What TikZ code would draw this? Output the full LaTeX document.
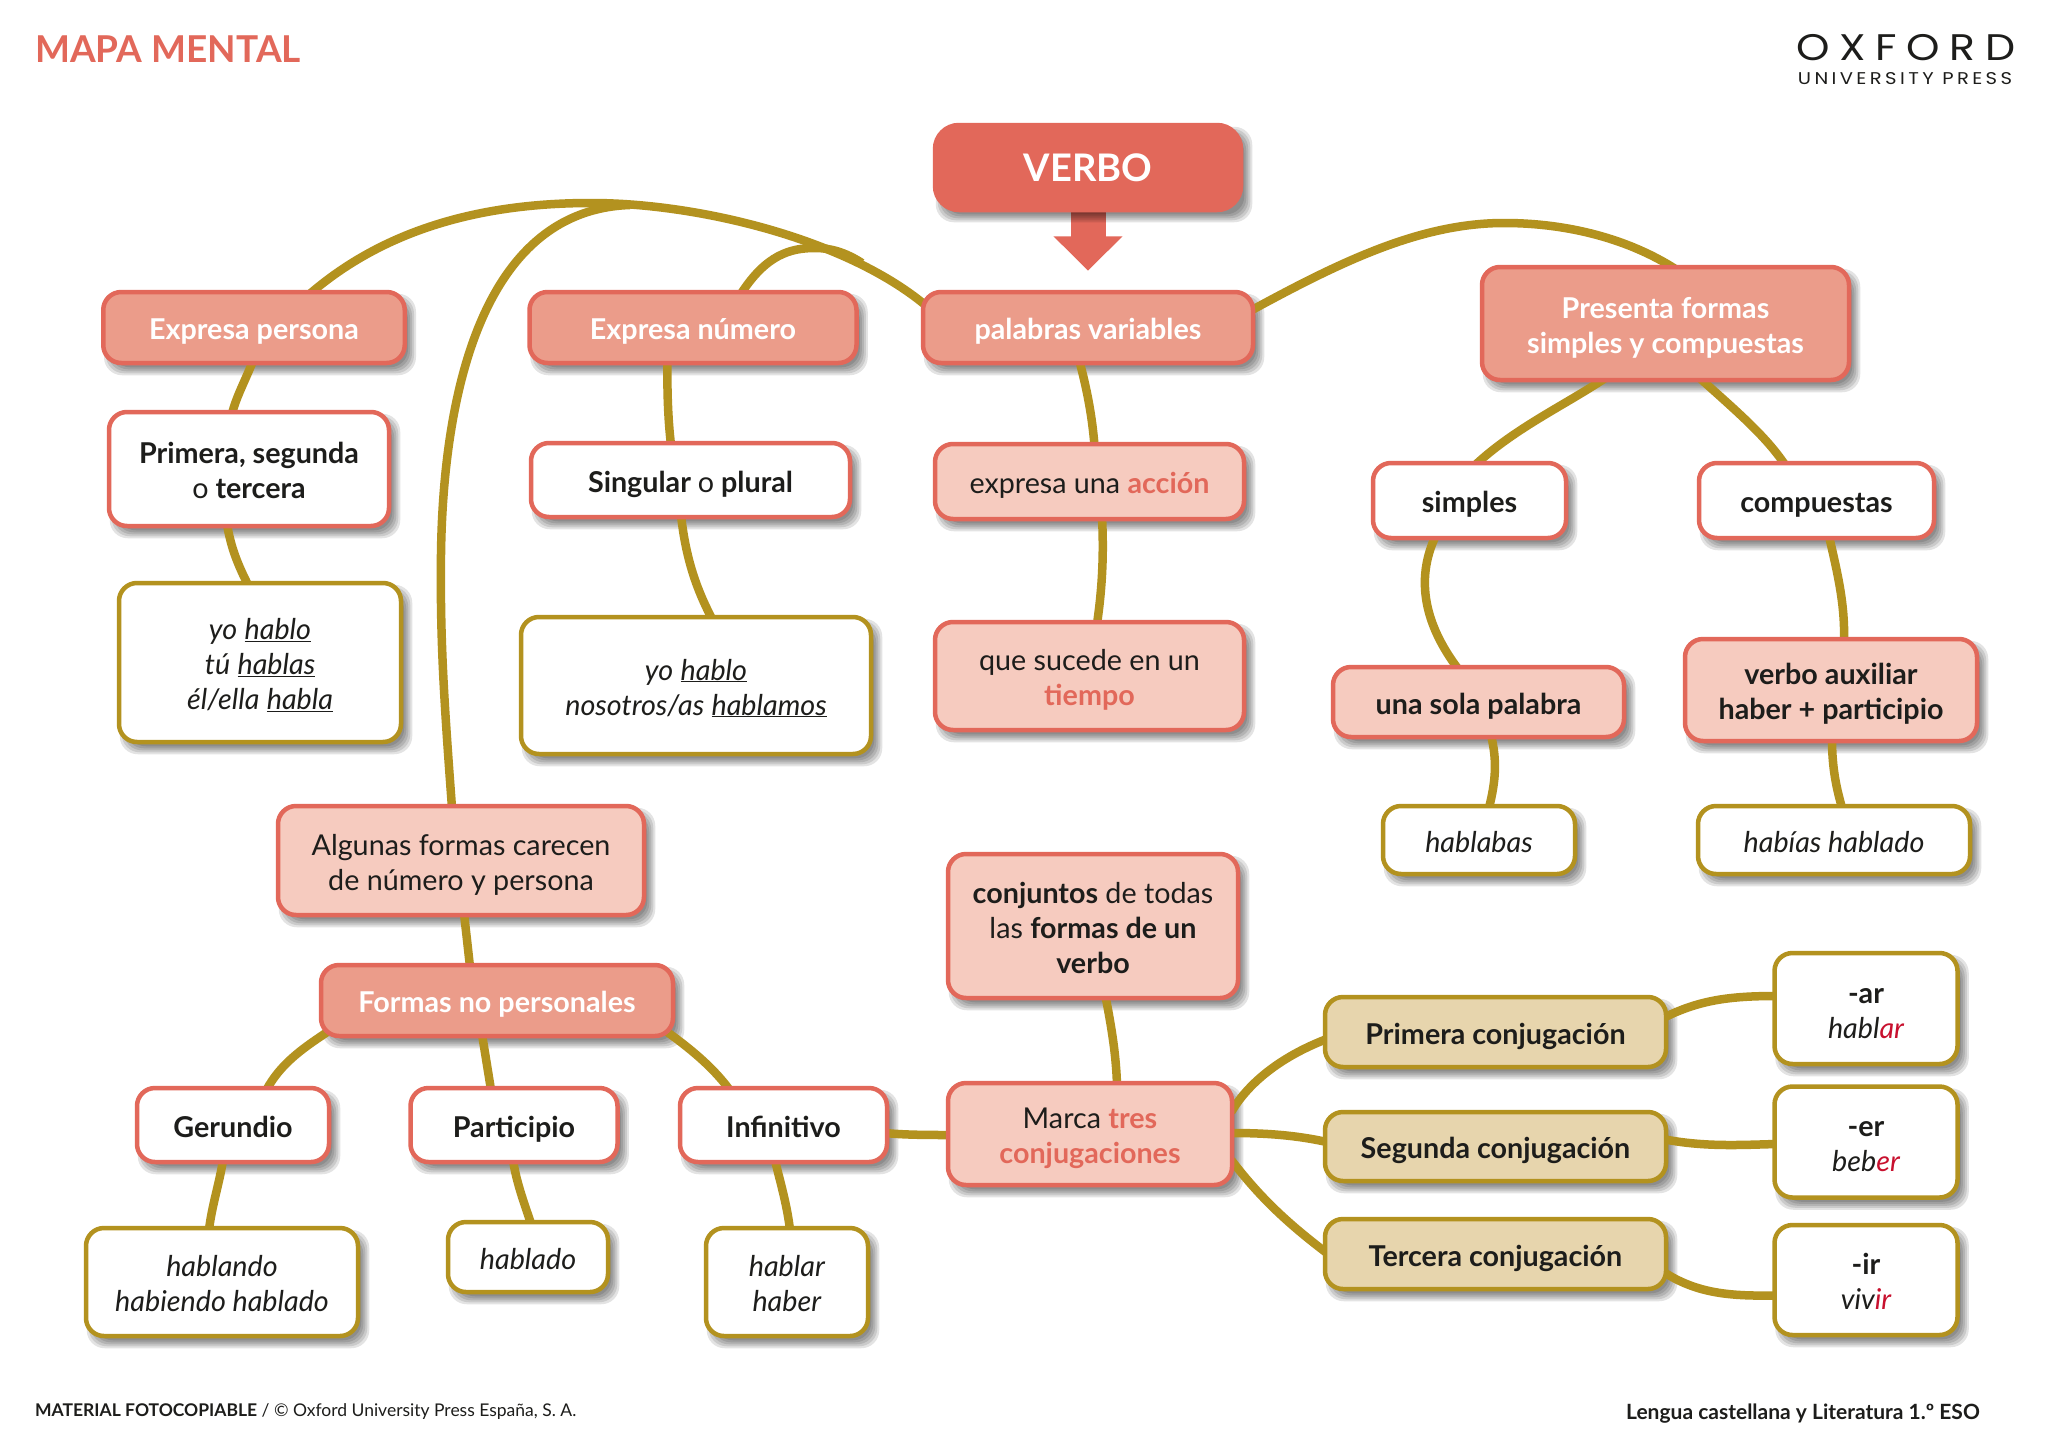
\documentclass[tikz,border=0pt]{standalone}
\usepackage{fontspec}
\setmainfont{Lato}
\newfontfamily\oxf[LetterSpace=26,FakeStretch=1.15]{Poppins}
\newfontfamily\oxs[LetterSpace=20,FakeStretch=1.15]{Poppins}
\usetikzlibrary{arrows.meta}
\definecolor{gold}{HTML}{B3921F}
\definecolor{coral}{HTML}{E2685A}
\definecolor{darksal}{HTML}{EB9C8A}
\definecolor{lightsal}{HTML}{F6CBBF}
\definecolor{tan}{HTML}{E7D5AD}
\definecolor{inkb}{HTML}{1D1D1B}
\definecolor{endred}{HTML}{C8102E}
\pgfdeclarelayer{shadowlayer}
\pgfdeclarelayer{linklayer}
\pgfsetlayers{shadowlayer,linklayer,main}
\newcommand{\co}[1]{\textcolor{coral}{\textbf{#1}}}
\newcommand{\ie}[1]{\textit{#1}}
\newcommand{\ug}[1]{\underline{\smash{\textit{#1}}}}
\newcommand{\sa}{\rule{0pt}{30pt}}
\newcommand{\sz}{\rule[-6pt]{0pt}{6pt}}
\tikzset{
 base/.style={rectangle,rounded corners=18pt,line width=4.5pt,inner sep=0pt,align=center,text=inkb,
   font=\fontsize{28.7}{35}\selectfont},
 verbobox/.style={base,fill=coral,draw=coral,rounded corners=24pt,text=white,font=\fontsize{38}{46}\selectfont\bfseries},
 darkbox/.style={base,fill=darksal,draw=coral,text=white,font=\fontsize{28.7}{35}\selectfont\bfseries},
 lightbox/.style={base,fill=lightsal,draw=coral},
 lightbold/.style={lightbox,font=\fontsize{28.7}{35}\selectfont\bfseries},
 whitered/.style={base,fill=white,draw=coral,font=\fontsize{28.7}{35}\selectfont\bfseries},
 whitegold/.style={base,fill=white,draw=gold},
 tanbox/.style={base,fill=tan,draw=gold,font=\fontsize{28.7}{35}\selectfont\bfseries},
 link/.style={draw=gold,line width=8.5pt,line join=round},
 bigarrow/.style={draw=coral,line width=35pt,-{Triangle[width=67pt,length=34.5pt,fill=coral]}},
}
\begin{document}
\begin{tikzpicture}[x=1pt,y=-1pt]
\useasboundingbox (0,0) rectangle (2048,1448);
% headings
\node[anchor=west,inner sep=0pt,text=coral,font=\fontsize{37}{40}\selectfont\bfseries] (title) at (35,49) {MAPA MENTAL};
\node[anchor=center,inner sep=0pt,text=inkb,font=\fontsize{37}{40}\selectfont\oxf] (oxford) at (1906,48) {OXFORD};
\node[anchor=center,inner sep=0pt,text=inkb,font=\fontsize{17}{20}\selectfont\oxs] (oup) at (1905,79) {UNIVERSITY PRESS};
\node[anchor=west,inner sep=0pt,text=inkb,font=\fontsize{17.5}{22}\selectfont] (footl) at (35,1411.5) {\textbf{MATERIAL FOTOCOPIABLE} / © Oxford University Press España, S. A.};
\node[anchor=east,inner sep=0pt,text=inkb,font=\fontsize{21}{24}\selectfont\bfseries] (footr) at (1980,1413.5) {Lengua castellana y Literatura 1.º ESO};
% nodes
\node[verbobox,minimum width=306pt,minimum height=85pt] (verbo) at (1088,167.5) {VERBO};
\node[darkbox,minimum width=301.5pt,minimum height=71pt] (exper) at (254,327.5) {\sa\sz Expresa persona};
\node[whitered,minimum width=280pt,minimum height=114pt] (primera) at (249,469) {\sa Primera, segunda\\{\mdseries o} tercera\sz};
\node[whitegold,minimum width=282pt,minimum height=159pt] (ejper) at (260,662.5) {\sa\ie{yo} \ug{hablo}\\\ie{tú} \ug{hablas}\\\ie{él/ella} \ug{habla}\sz};
\node[darkbox,minimum width=327pt,minimum height=71pt] (exnum) at (693,327.5) {\sa\sz Expresa número};
\node[whitered,minimum width=319pt,minimum height=74pt] (singular) at (690.5,480) {\sa\sz Singular {\mdseries o} plural};
\node[whitegold,minimum width=350pt,minimum height=137pt] (ejnum) at (696,685.5) {\sa\ie{yo} \ug{hablo}\\\ie{nosotros/as} \ug{hablamos}\sz};
\node[darkbox,minimum width=330pt,minimum height=71pt] (pal) at (1088,327.5) {\sa\sz palabras variables};
\node[lightbox,minimum width=309pt,minimum height=75pt] (accion) at (1089.5,481.5) {\sa\sz expresa una \co{acción}};
\node[lightbox,minimum width=309pt,minimum height=108pt] (tiempo) at (1089.5,676) {\sa que sucede en un\\\co{tiempo}\sz};
\node[darkbox,minimum width=367pt,minimum height=113pt] (presenta) at (1665.5,323.5) {\sa Presenta formas\\simples y compuestas\sz};
\node[whitered,minimum width=193pt,minimum height=75pt] (simples) at (1469.5,500.5) {\sa\sz simples};
\node[whitered,minimum width=235pt,minimum height=75pt] (compuestas) at (1816.5,500.5) {\sa\sz compuestas};
\node[lightbold,minimum width=291pt,minimum height=70pt] (sola) at (1478.5,702) {\sa\sz una sola palabra};
\node[lightbold,minimum width=292pt,minimum height=102pt] (aux) at (1831,690) {\sa verbo auxiliar\\haber + participio\sz};
\node[whitegold,minimum width=192pt,minimum height=68pt] (hablabas) at (1479,840) {\sa\sz\ie{hablabas}};
\node[whitegold,minimum width=272pt,minimum height=68pt] (habias) at (1834,840) {\sa\sz\ie{habías hablado}};
\node[lightbox,minimum width=290pt,minimum height=144pt] (conj) at (1093,926) {\sa\textbf{conjuntos} de todas\\las \textbf{formas de un}\\\textbf{verbo}\sz};
\node[lightbox,minimum width=284pt,minimum height=102pt] (marca) at (1090,1134) {\sa Marca \co{tres}\\\co{conjugaciones}\sz};
\node[tanbox,minimum width=341pt,minimum height=70pt] (pc) at (1495.5,1032) {\sa\sz Primera conjugación};
\node[tanbox,minimum width=341pt,minimum height=69pt] (sc) at (1495.5,1146.5) {\sa\sz Segunda conjugación};
\node[tanbox,minimum width=341pt,minimum height=70pt] (tc) at (1495.5,1254) {\sa\sz Tercera conjugación};
\node[whitegold,minimum width=183pt,minimum height=111pt] (ar) at (1866,1008.5) {\sa\textbf{-ar}\\\ie{habl\textcolor{endred}{ar}}\sz};
\node[whitegold,minimum width=183pt,minimum height=111pt] (er) at (1866,1142) {\sa\textbf{-er}\\\ie{beb\textcolor{endred}{er}}\sz};
\node[whitegold,minimum width=183pt,minimum height=110pt] (ir) at (1866,1280) {\sa\textbf{-ir}\\\ie{viv\textcolor{endred}{ir}}\sz};
\node[lightbox,minimum width=366pt,minimum height=109pt] (algunas) at (461,860.5) {\sa Algunas formas carecen\\de número y persona\sz};
\node[darkbox,minimum width=352pt,minimum height=71pt] (formas) at (497,1000.5) {\sa\sz Formas no personales};
\node[whitered,minimum width=192pt,minimum height=74pt] (gerundio) at (233,1125) {\sa\sz Gerundio};
\node[whitered,minimum width=207pt,minimum height=74pt] (participio) at (514,1125) {\sa\sz Participio};
\node[whitered,minimum width=207pt,minimum height=74pt] (infinitivo) at (783.5,1125) {\sa\sz Infinitivo};
\node[whitegold,minimum width=272pt,minimum height=108pt] (hablando) at (222,1282) {\sa\ie{hablando}\\\ie{habiendo hablado}\sz};
\node[whitegold,minimum width=160pt,minimum height=70pt] (hablado) at (528,1257) {\sa\sz\ie{hablado}};
\node[whitegold,minimum width=162pt,minimum height=108pt] (hablar) at (787,1282) {\sa\ie{hablar}\\\ie{haber}\sz};
% free points of the arcs
\coordinate (apex) at (591,203);
\coordinate (numapex) at (815,248);
\coordinate (numjoin) at (862,263);
\coordinate (algbend) at (441,554);
\coordinate (algjoin) at (630,205);
\coordinate (presapex) at (1504,223);
\begin{pgfonlayer}{shadowlayer}
\fill[white] (0,0) rectangle (2048,1448);
\draw[bigarrow] (verbo.south) -- ([yshift=19pt]pal.north);
\foreach \n in {verbo,exper,primera,ejper,exnum,singular,ejnum,pal,accion,tiempo,presenta,simples,compuestas,sola,aux,hablabas,habias,conj,marca,pc,sc,tc,ar,er,ir,algunas,formas,gerundio,participio,infinitivo,hablando,hablado,hablar}
 \foreach \g in {-3,-1,1,3,5}
  \fill[black,opacity=.11,rounded corners=18pt]
   ([xshift={6pt+\g pt},yshift={-7pt-\g pt}]\n.north west) rectangle ([xshift={6pt-\g pt},yshift={-7pt+\g pt}]\n.south east);
\end{pgfonlayer}
\begin{pgfonlayer}{linklayer}
\draw[link] ([xshift=56pt,yshift=-4pt]exper.north) .. controls (390,225) and (490,203) .. (apex) .. controls (700,203) and (850,240) .. ([xshift=8pt,yshift=19.5pt]pal.west);
\draw[link] ([xshift=48pt,yshift=-4pt]exnum.north) .. controls (766,255) and (790,248) .. (numapex) .. controls (830,248) and (845,252) .. (numjoin);
\draw[link] ([xshift=-9pt,yshift=-4pt]algunas.north) .. controls (444,700) and (440,640) .. (algbend) .. controls (443,400) and (480,210) .. (algjoin);
\draw[link] ([xshift=-6pt,yshift=16pt]pal.east) .. controls (1340,262) and (1420,223) .. (presapex) .. controls (1570,223) and (1630,240) .. ([xshift=9.5pt,yshift=-4pt]presenta.north);
\draw[link] ([xshift=-1pt,yshift=4pt]exper.south) .. controls (243,385) and (236,398) .. ([xshift=-17pt,yshift=-4pt]primera.north);
\draw[link] ([xshift=-22pt,yshift=4pt]primera.south) .. controls (231,548) and (238,565) .. ([xshift=-12pt,yshift=-4pt]ejper.north);
\draw[link] ([xshift=-25.5pt,yshift=4pt]exnum.south) .. controls (667,390) and (668,420) .. ([xshift=-19.5pt,yshift=-4pt]singular.north);
\draw[link] ([xshift=-9.5pt,yshift=4pt]singular.south) .. controls (686,560) and (697,590) .. ([xshift=16pt,yshift=-4pt]ejnum.north);
\draw[link] ([xshift=-8.5pt,yshift=4pt]pal.south) .. controls (1087,390) and (1092,415) .. ([xshift=5pt,yshift=-4pt]accion.north);
\draw[link] ([xshift=12.5pt,yshift=4pt]accion.south) .. controls (1104,555) and (1102,590) .. ([xshift=7.5pt,yshift=-4pt]tiempo.north);
\draw[link] ([xshift=-60.5pt,yshift=4pt]presenta.south) .. controls (1565,405) and (1515,428) .. ([xshift=6pt,yshift=-4pt]simples.north);
\draw[link] ([xshift=34.5pt,yshift=4pt]presenta.south) .. controls (1735,410) and (1765,435) .. ([xshift=-31.5pt,yshift=-4pt]compuestas.north);
\draw[link] ([xshift=-34pt,yshift=4pt]simples.south) .. controls (1415,580) and (1425,625) .. ([xshift=-20.5pt,yshift=-4pt]sola.north);
\draw[link] ([xshift=12.5pt,yshift=4pt]compuestas.south) .. controls (1838,575) and (1845,605) .. ([xshift=13pt,yshift=-4pt]aux.north);
\draw[link] ([xshift=12.5pt,yshift=4pt]sola.south) .. controls (1497,760) and (1496,780) .. ([xshift=10pt,yshift=-4pt]hablabas.north);
\draw[link] ([xshift=1pt,yshift=4pt]aux.south) .. controls (1832,770) and (1837,790) .. ([xshift=8pt,yshift=-4pt]habias.north);
\draw[link] ([xshift=12.5pt,yshift=4pt]conj.south) .. controls (1112,1030) and (1116,1055) .. ([xshift=27pt,yshift=-4pt]marca.north);
\draw[link] ([xshift=3pt,yshift=4pt]algunas.south) -- ([xshift=-27pt,yshift=-4pt]formas.north);
\draw[link] ([xshift=-170pt,yshift=6pt]formas.south) .. controls (300,1050) and (280,1065) .. ([xshift=33.5pt,yshift=-4pt]gerundio.north);
\draw[link] ([xshift=-15pt,yshift=4pt]formas.south) -- ([xshift=-23pt,yshift=-4pt]participio.north);
\draw[link] ([xshift=170.5pt,yshift=6pt]formas.south) .. controls (695,1052) and (715,1070) .. ([xshift=-54pt,yshift=-4pt]infinitivo.north);
\draw[link] ([xshift=-10pt,yshift=4pt]gerundio.south) .. controls (219,1185) and (212,1205) .. ([xshift=-13pt,yshift=-4pt]hablando.north);
\draw[link] ([xshift=-1pt,yshift=4pt]participio.south) .. controls (517,1185) and (525,1205) .. ([xshift=3pt,yshift=-4pt]hablado.north);
\draw[link] ([xshift=-8.5pt,yshift=4pt]infinitivo.south) .. controls (781,1185) and (787,1205) .. ([xshift=3pt,yshift=-4pt]hablar.north);
\draw[link] ([xshift=-4pt,yshift=-8pt]infinitivo.east) .. controls (905,1135) and (930,1135) .. ([xshift=4pt,yshift=-1pt]marca.west);
\draw[link] ([xshift=-3pt,yshift=22pt]marca.east) .. controls (1250,1080) and (1285,1055) .. ([xshift=4pt,yshift=-7pt]pc.west);
\draw[link] ([xshift=-3pt,yshift=1pt]marca.east) .. controls (1265,1133) and (1295,1135) .. ([xshift=4pt,yshift=4.5pt]sc.west);
\draw[link] ([xshift=-3pt,yshift=-26pt]marca.east) .. controls (1262,1200) and (1290,1225) .. ([xshift=4pt,yshift=1pt]tc.west);
\draw[link] ([xshift=-3pt,yshift=15pt]pc.east) .. controls (1700,1000) and (1730,996) .. ([xshift=4pt,yshift=12.5pt]ar.west);
\draw[link] ([xshift=-3pt,yshift=7pt]sc.east) .. controls (1705,1147) and (1740,1145) .. ([xshift=4pt,yshift=-2pt]er.west);
\draw[link] ([xshift=-3pt,yshift=-19pt]tc.east) .. controls (1700,1295) and (1735,1296) .. ([xshift=4pt,yshift=-15.5pt]ir.west);
\end{pgfonlayer}
\end{tikzpicture}
\end{document}
